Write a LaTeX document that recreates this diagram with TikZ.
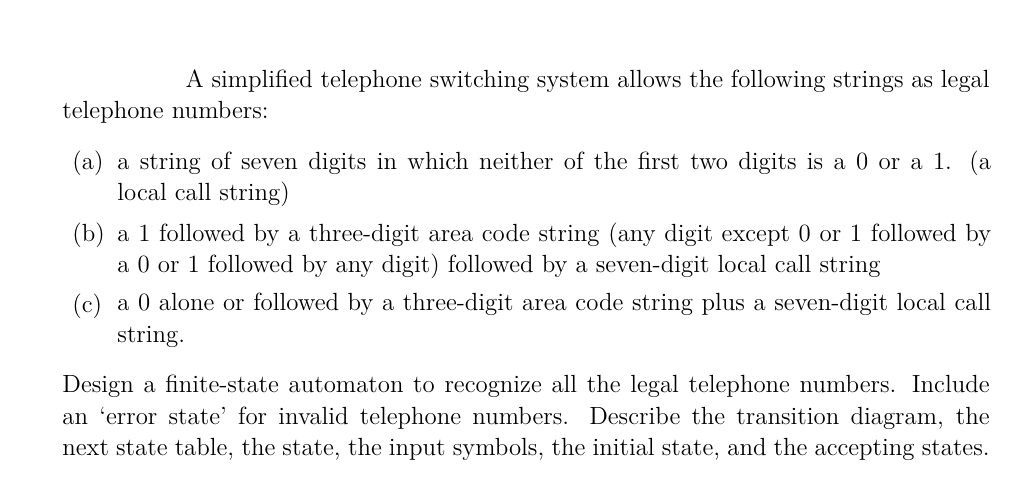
\documentclass[tikz,border=0pt]{standalone}
\begin{document}
\begin{tikzpicture}[x=0.467pt,y=-0.467pt,
  para/.style={anchor=north west,inner sep=0pt,align=justify,font=\fontsize{11.6}{14.6}\selectfont},
  lab/.style={anchor=north west,inner sep=0pt,font=\fontsize{11.6}{14.6}\selectfont}]
\useasboundingbox (0,0) rectangle (1024,491);
\node[para,text width=433pt] (p1) at (62,69) {\hspace*{57.5pt}A simplified telephone switching system allows the following strings as legal\linebreak telephone numbers:};
\node[lab] (la) at (72,150) {(a)};
\node[para,text width=408pt] (ia) at (117,150) {a string of seven digits in which neither of the first two digits is a 0 or a 1. (a\linebreak local call string)};
\node[lab] (lb) at (72,222) {(b)};
\node[para,text width=408pt] (ib) at (117,222) {a 1 followed by a three-digit area code string (any digit except 0 or 1 followed by\linebreak a 0 or 1 followed by any digit) followed by a seven-digit local call string};
\node[lab] (lc) at (72,293) {(c)};
\node[para,text width=408pt] (ic) at (117,293) {a 0 alone or followed by a three-digit area code string plus a seven-digit local call\linebreak string.};
\node[para,text width=433pt] (p2) at (62,375) {Design a finite-state automaton to recognize all the legal telephone numbers. Include\linebreak an `error state' for invalid telephone numbers. Describe the transition diagram, the\linebreak next state table, the state, the input symbols, the initial state, and the accepting states.};
\end{tikzpicture}
\end{document}
